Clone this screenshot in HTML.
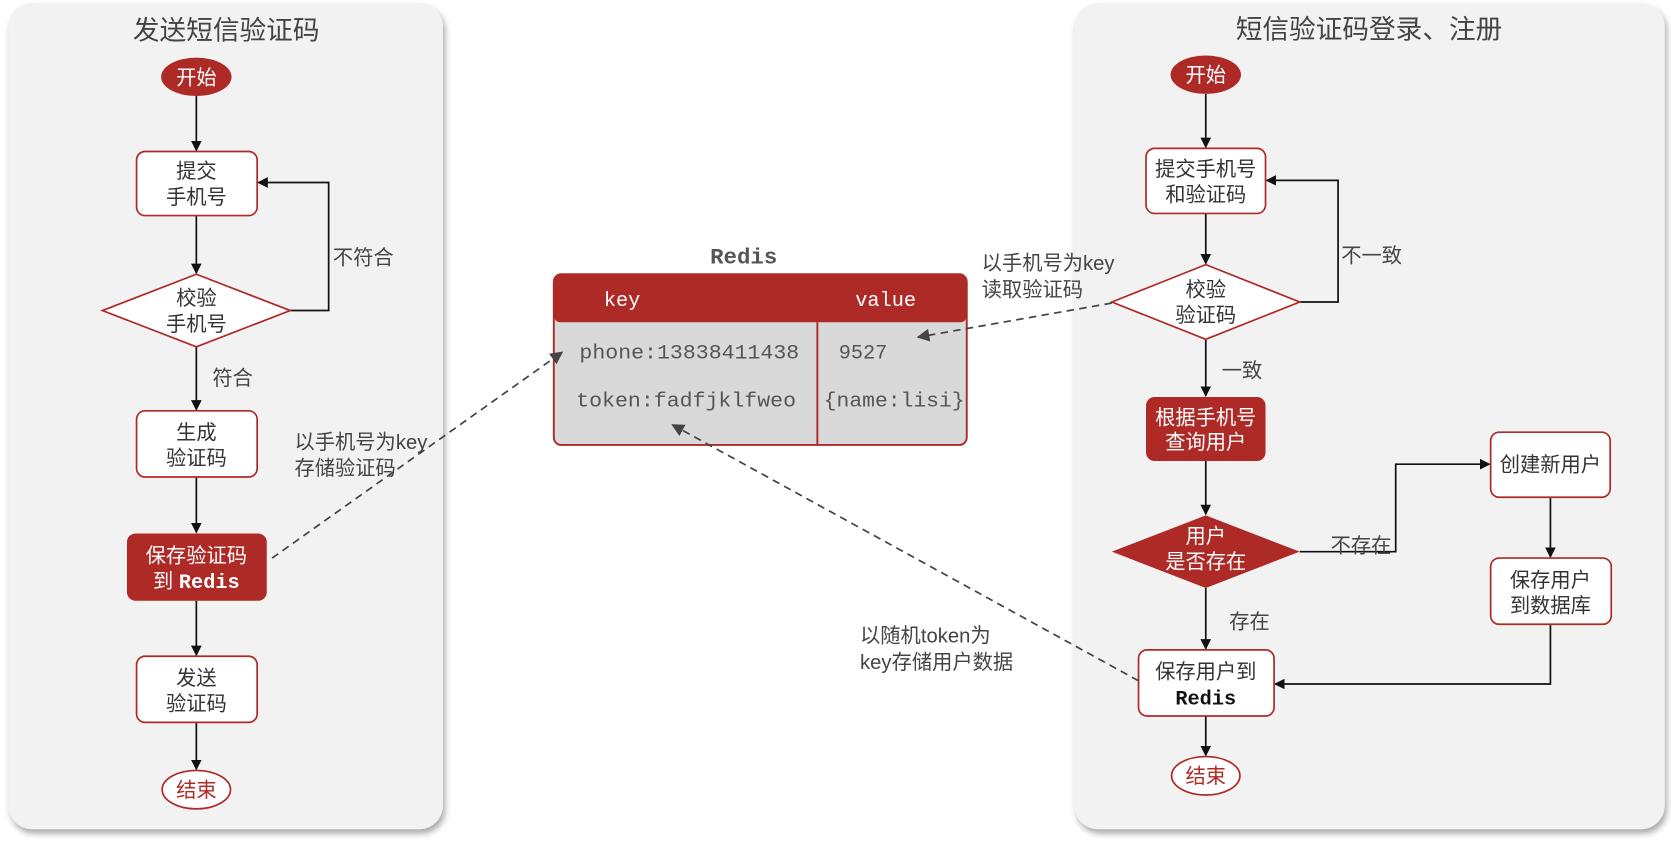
<!DOCTYPE html>
<html><head><meta charset="utf-8"><style>
html,body{margin:0;padding:0;background:#fff;}
svg{display:block;}
text{font-family:"Liberation Sans","Noto Sans CJK SC",sans-serif;}
.m, .m text, tspan.m{font-family:"Liberation Mono","DejaVu Sans Mono",monospace;}
</style></head><body>
<svg width="1671" height="843" viewBox="0 0 1566 790" xmlns="http://www.w3.org/2000/svg">
<defs>
<marker id="a" markerWidth="10" markerHeight="10" refX="9" refY="5" orient="auto" markerUnits="userSpaceOnUse"><path d="M0,0 L10,5 L0,10 z" fill="#111"/></marker>
<marker id="g" markerWidth="12" markerHeight="12" refX="11" refY="6" orient="auto" markerUnits="userSpaceOnUse"><path d="M0,0 L12,6 L0,12 z" fill="#444"/></marker>
<filter id="s" x="-5%" y="-5%" width="110%" height="110%"><feDropShadow dx="2" dy="4" stdDeviation="3" flood-color="#000" flood-opacity="0.35"/></filter>
</defs>
<rect x="8" y="3" width="407" height="774" rx="22" fill="#f2f2f2" filter="url(#s)"/>
<rect x="1007" y="3" width="553" height="774" rx="22" fill="#f2f2f2" filter="url(#s)"/>
<g font-size="25" fill="#444" text-anchor="middle">
<text x="212" y="37">发送短信验证码</text>
<text x="1283" y="36">短信验证码登录、注册</text>
</g>
<g stroke="#111" stroke-width="1.6" fill="none" marker-end="url(#a)">
<line x1="184" y1="90" x2="184" y2="141"/>
<line x1="184" y1="202" x2="184" y2="256"/>
<polyline points="272,291 308,291 308,171 242,171"/>
<line x1="184" y1="325" x2="184" y2="384"/>
<line x1="184" y1="447" x2="184" y2="499"/>
<line x1="184" y1="563" x2="184" y2="614"/>
<line x1="184" y1="677" x2="184" y2="721"/>
<line x1="1130" y1="88" x2="1130" y2="138"/>
<line x1="1130" y1="200" x2="1130" y2="247"/>
<polyline points="1218,283 1254,283 1254,169 1187,169"/>
<line x1="1130" y1="318" x2="1130" y2="371"/>
<line x1="1130" y1="432" x2="1130" y2="482"/>
<polyline points="1218,517 1308,517 1308,435 1396,435"/>
<line x1="1453" y1="466" x2="1453" y2="522"/>
<polyline points="1453,585 1453,641 1195,641"/>
<line x1="1130" y1="551" x2="1130" y2="608"/>
<line x1="1130" y1="671" x2="1130" y2="708"/>
</g>
<!-- left shapes -->
<ellipse cx="184" cy="72" rx="33" ry="18" fill="#ad2a27"/>
<rect x="128" y="142" width="113" height="60" rx="8" fill="#fff" stroke="#ad2a27" stroke-width="1.6"/>
<polygon points="96,291 184,257 272,291 184,325" fill="#fff" stroke="#ad2a27" stroke-width="1.6"/>
<rect x="128" y="385" width="113" height="62" rx="8" fill="#fff" stroke="#ad2a27" stroke-width="1.6"/>
<rect x="119" y="500" width="131" height="63" rx="8" fill="#ad2a27"/>
<rect x="128" y="615" width="113" height="62" rx="8" fill="#fff" stroke="#ad2a27" stroke-width="1.6"/>
<ellipse cx="184" cy="740" rx="32" ry="18" fill="#fff" stroke="#ad2a27" stroke-width="1.6"/>
<!-- right shapes -->
<ellipse cx="1130" cy="70" rx="33" ry="18" fill="#ad2a27"/>
<rect x="1074" y="139" width="112" height="61" rx="8" fill="#fff" stroke="#ad2a27" stroke-width="1.6"/>
<polygon points="1042,283 1130,248 1218,283 1130,318" fill="#fff" stroke="#ad2a27" stroke-width="1.6"/>
<rect x="1074" y="372" width="112" height="60" rx="8" fill="#ad2a27"/>
<polygon points="1042,517 1130,483 1218,517 1130,551" fill="#ad2a27"/>
<rect x="1397" y="405" width="112" height="61" rx="8" fill="#fff" stroke="#ad2a27" stroke-width="1.6"/>
<rect x="1397" y="523" width="113" height="62" rx="8" fill="#fff" stroke="#ad2a27" stroke-width="1.6"/>
<rect x="1067" y="609" width="127" height="62" rx="8" fill="#fff" stroke="#ad2a27" stroke-width="1.6"/>
<ellipse cx="1130" cy="727" rx="32" ry="18" fill="#fff" stroke="#ad2a27" stroke-width="1.6"/>
<!-- redis -->
<rect x="519" y="257" width="387" height="160" rx="7" fill="#d9d9d9" stroke="#ad2a27" stroke-width="1.8"/>
<path d="M519,296 V264 a7,7 0 0 1 7,-7 H899 a7,7 0 0 1 7,7 V296 a6,6 0 0 1 -6,6 H525 a6,6 0 0 1 -6,-6 z" fill="#ad2a27"/>
<line x1="766" y1="302" x2="766" y2="417" stroke="#ad2a27" stroke-width="1.8"/>
<text x="697" y="247" class="m" font-size="21" font-weight="bold" fill="#555" text-anchor="middle">Redis</text>
<g class="m" font-size="19">
<text x="583" y="287" fill="#fff" text-anchor="middle">key</text>
<text x="830" y="287" fill="#fff" text-anchor="middle">value</text>
<text x="543" y="336" fill="#555" textLength="206" lengthAdjust="spacingAndGlyphs">phone:13838411438</text>
<text x="786" y="336" fill="#555">9527</text>
<text x="540" y="381" fill="#555" textLength="206" lengthAdjust="spacingAndGlyphs">token:fadfjklfweo</text>
<text x="772" y="381" fill="#555" textLength="132" lengthAdjust="spacingAndGlyphs">{name:lisi}</text>
</g>
<g stroke="#444" stroke-width="1.6" stroke-dasharray="7,5" fill="none" marker-end="url(#g)">
<line x1="255" y1="523" x2="527" y2="330"/>
<line x1="1042" y1="284" x2="860" y2="316"/>
<line x1="1067" y1="638" x2="630" y2="398"/>
</g>
<!-- texts -->
<g font-size="19" text-anchor="middle" fill="#333">
<text x="184" y="79" fill="#fff">开始</text>
<text x="184" y="167">提交</text><text x="184" y="191">手机号</text>
<text x="184" y="286">校验</text><text x="184" y="310">手机号</text>
<text x="184" y="412">生成</text><text x="184" y="436">验证码</text>
<text x="184" y="527" fill="#fff">保存验证码</text>
<text x="184" y="551" fill="#fff">到 <tspan class="m" font-weight="bold">Redis</tspan></text>
<text x="184" y="642">发送</text><text x="184" y="666">验证码</text>
<text x="184" y="747" fill="#ad2a27">结束</text>
<text x="1130" y="77" fill="#fff">开始</text>
<text x="1130" y="165">提交手机号</text><text x="1130" y="189">和验证码</text>
<text x="1130" y="278">校验</text><text x="1130" y="302">验证码</text>
<text x="1130" y="398" fill="#fff">根据手机号</text><text x="1130" y="421" fill="#fff">查询用户</text>
<text x="1130" y="509" fill="#fff">用户</text><text x="1130" y="533" fill="#fff">是否存在</text>
<text x="1453" y="442">创建新用户</text>
<text x="1453" y="550">保存用户</text><text x="1453" y="574">到数据库</text>
<text x="1130" y="636">保存用户到</text>
<text x="1130" y="660" class="m" font-weight="bold" fill="#111">Redis</text>
<text x="1130" y="734" fill="#ad2a27">结束</text>
</g>
<g font-size="19" fill="#444">
<text x="312" y="248">不符合</text>
<text x="199" y="361">符合</text>
<text x="276" y="421">以手机号为key</text><text x="276" y="445">存储验证码</text>
<text x="1257" y="246">不一致</text>
<text x="920" y="253">以手机号为key</text><text x="920" y="278">读取验证码</text>
<text x="1145" y="354">一致</text>
<text x="1247" y="518">不存在</text>
<text x="1152" y="589">存在</text>
<text x="806" y="602">以随机token为</text><text x="806" y="627">key存储用户数据</text>
</g>
</svg>
</body></html>
